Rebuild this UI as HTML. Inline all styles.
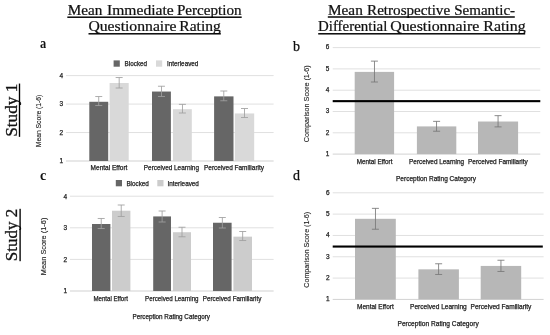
<!DOCTYPE html>
<html lang="en"><head><meta charset="utf-8"><title>Perception questionnaire ratings</title>
<style>html,body{margin:0;padding:0;background:#fff}svg{display:block}</style></head>
<body><svg width="550" height="335" viewBox="0 0 550 335">
<rect width="550" height="335" fill="#fff"/>
<text x="67.8" y="14.5" font-size="13.9" text-anchor="start" font-family='"Liberation Serif", serif' fill="#111" textLength="34.6" lengthAdjust="spacingAndGlyphs" stroke="#111" stroke-width="0.22" >Mean</text>
<text x="107.0" y="14.5" font-size="13.9" text-anchor="start" font-family='"Liberation Serif", serif' fill="#111" textLength="66.7" lengthAdjust="spacingAndGlyphs" stroke="#111" stroke-width="0.22" >Immediate</text>
<text x="176.9" y="14.5" font-size="13.9" text-anchor="start" font-family='"Liberation Serif", serif' fill="#111" textLength="64.7" lengthAdjust="spacingAndGlyphs" stroke="#111" stroke-width="0.22" >Perception</text>
<rect x="67.3" y="16.474999999999998" width="174.39999999999998" height="1.45" fill="#000"/>
<text x="88.4" y="30.7" font-size="13.9" text-anchor="start" font-family='"Liberation Serif", serif' fill="#111" textLength="88.0" lengthAdjust="spacingAndGlyphs" stroke="#111" stroke-width="0.22" >Questionnaire</text>
<text x="179.3" y="30.7" font-size="13.9" text-anchor="start" font-family='"Liberation Serif", serif' fill="#111" textLength="41.5" lengthAdjust="spacingAndGlyphs" stroke="#111" stroke-width="0.22" >Rating</text>
<rect x="88.5" y="33.074999999999996" width="132.3" height="1.45" fill="#000"/>
<text x="328.0" y="14.5" font-size="13.9" text-anchor="start" font-family='"Liberation Serif", serif' fill="#111" textLength="34.8" lengthAdjust="spacingAndGlyphs" stroke="#111" stroke-width="0.22" >Mean</text>
<text x="367.1" y="14.5" font-size="13.9" text-anchor="start" font-family='"Liberation Serif", serif' fill="#111" textLength="83.0" lengthAdjust="spacingAndGlyphs" stroke="#111" stroke-width="0.22" >Retrospective</text>
<text x="454.2" y="14.5" font-size="13.9" text-anchor="start" font-family='"Liberation Serif", serif' fill="#111" textLength="60.9" lengthAdjust="spacingAndGlyphs" stroke="#111" stroke-width="0.22" >Semantic-</text>
<rect x="327.8" y="16.275" width="186.99999999999994" height="1.45" fill="#000"/>
<text x="318.0" y="30.7" font-size="13.9" text-anchor="start" font-family='"Liberation Serif", serif' fill="#111" textLength="69.3" lengthAdjust="spacingAndGlyphs" stroke="#111" stroke-width="0.22" >Differential</text>
<text x="390.2" y="30.7" font-size="13.9" text-anchor="start" font-family='"Liberation Serif", serif' fill="#111" textLength="89.1" lengthAdjust="spacingAndGlyphs" stroke="#111" stroke-width="0.22" >Questionnaire</text>
<text x="483.3" y="30.7" font-size="13.9" text-anchor="start" font-family='"Liberation Serif", serif' fill="#111" textLength="42.4" lengthAdjust="spacingAndGlyphs" stroke="#111" stroke-width="0.22" >Rating</text>
<rect x="318.2" y="33.074999999999996" width="207.00000000000006" height="1.45" fill="#000"/>
<text x="40" y="48" font-size="15" text-anchor="start" font-family='"Liberation Serif", serif' fill="#111" font-weight="bold" textLength="6.2" lengthAdjust="spacingAndGlyphs" >a</text>
<text x="293" y="50.7" font-size="14" text-anchor="start" font-family='"Liberation Serif", serif' fill="#111" stroke="#111" stroke-width="0.25" >b</text>
<text x="40" y="179.8" font-size="14" text-anchor="start" font-family='"Liberation Serif", serif' fill="#111" font-weight="bold" >c</text>
<text x="293" y="179.6" font-size="14" text-anchor="start" font-family='"Liberation Serif", serif' fill="#111" stroke="#111" stroke-width="0.25" >d</text>
<g transform="translate(16.6 110.2) rotate(-90)">
<text x="0" y="0" font-size="17.3" text-anchor="middle" font-family='"Liberation Serif", serif' fill="#111" textLength="53.3" lengthAdjust="spacingAndGlyphs" stroke="#111" stroke-width="0.3" >Study 1</text>
<rect x="-26.65" y="2.2249999999999996" width="53.3" height="1.35" fill="#000"/>
</g>
<g transform="translate(17.2 235.0) rotate(-90)">
<text x="0" y="0" font-size="17.3" text-anchor="middle" font-family='"Liberation Serif", serif' fill="#111" textLength="52.4" lengthAdjust="spacingAndGlyphs" stroke="#111" stroke-width="0.3" >Study 2</text>
<rect x="-26.2" y="2.2249999999999996" width="52.4" height="1.35" fill="#000"/>
</g>
<rect x="66" y="75.1" width="207.60000000000002" height="1" fill="#e0e0e0"/>
<text x="63.2" y="77.94" font-size="6.5" text-anchor="end" font-family='"Liberation Sans", sans-serif' fill="#222" stroke="#222" stroke-width="0.25" >4</text>
<rect x="66" y="103.56666666666666" width="207.60000000000002" height="1" fill="#e0e0e0"/>
<text x="63.2" y="106.40666666666667" font-size="6.5" text-anchor="end" font-family='"Liberation Sans", sans-serif' fill="#222" stroke="#222" stroke-width="0.25" >3</text>
<rect x="66" y="132.03333333333333" width="207.60000000000002" height="1" fill="#e0e0e0"/>
<text x="63.2" y="134.87333333333333" font-size="6.5" text-anchor="end" font-family='"Liberation Sans", sans-serif' fill="#222" stroke="#222" stroke-width="0.25" >2</text>
<rect x="66" y="160.5" width="207.60000000000002" height="1" fill="#d2d2d2"/>
<text x="63.2" y="163.34" font-size="6.5" text-anchor="end" font-family='"Liberation Sans", sans-serif' fill="#222" stroke="#222" stroke-width="0.25" >1</text>
<rect x="89.3" y="101.78933333333333" width="18.90" height="59.21" fill="#666666"/>
<rect x="109.6" y="83.00133333333332" width="19.10" height="78.00" fill="#d9d9d9"/>
<rect x="98.325" y="96.6" width="0.85" height="9.0" fill="#a0a0a0"/>
<rect x="95.25" y="96.175" width="7.0" height="0.85" fill="#a0a0a0"/>
<rect x="95.25" y="105.175" width="7.0" height="0.85" fill="#a0a0a0"/>
<rect x="118.725" y="77.6" width="0.85" height="10.400000000000006" fill="#a0a0a0"/>
<rect x="115.64999999999999" y="77.175" width="7.0" height="0.85" fill="#a0a0a0"/>
<rect x="115.64999999999999" y="87.575" width="7.0" height="0.85" fill="#a0a0a0"/>
<rect x="152.0" y="91.54133333333333" width="18.90" height="69.46" fill="#666666"/>
<rect x="173.0" y="109.19066666666666" width="18.80" height="51.81" fill="#d9d9d9"/>
<rect x="161.02499999999998" y="86.2" width="0.85" height="10.200000000000003" fill="#a0a0a0"/>
<rect x="157.95" y="85.775" width="7.0" height="0.85" fill="#a0a0a0"/>
<rect x="157.95" y="95.97500000000001" width="7.0" height="0.85" fill="#a0a0a0"/>
<rect x="181.975" y="104.3" width="0.85" height="8.700000000000003" fill="#a0a0a0"/>
<rect x="178.9" y="103.875" width="7.0" height="0.85" fill="#a0a0a0"/>
<rect x="178.9" y="112.575" width="7.0" height="0.85" fill="#a0a0a0"/>
<rect x="214.1" y="96.38066666666666" width="19.40" height="64.62" fill="#666666"/>
<rect x="234.8" y="113.46066666666667" width="19.40" height="47.54" fill="#d9d9d9"/>
<rect x="223.375" y="91.0" width="0.85" height="9.799999999999997" fill="#a0a0a0"/>
<rect x="220.3" y="90.575" width="7.0" height="0.85" fill="#a0a0a0"/>
<rect x="220.3" y="100.375" width="7.0" height="0.85" fill="#a0a0a0"/>
<rect x="244.075" y="108.5" width="0.85" height="9.0" fill="#a0a0a0"/>
<rect x="241.0" y="108.075" width="7.0" height="0.85" fill="#a0a0a0"/>
<rect x="241.0" y="117.075" width="7.0" height="0.85" fill="#a0a0a0"/>
<rect x="113.6" y="60.4" width="6.20" height="6.30" fill="#666666"/>
<text x="124.6" y="66.1" font-size="6.5" text-anchor="start" font-family='"Liberation Sans", sans-serif' fill="#222" textLength="22.5" lengthAdjust="spacingAndGlyphs" stroke="#222" stroke-width="0.25" >Blocked</text>
<rect x="156.0" y="60.4" width="6.20" height="6.30" fill="#d9d9d9"/>
<text x="167.0" y="66.1" font-size="6.5" text-anchor="start" font-family='"Liberation Sans", sans-serif' fill="#222" textLength="31.4" lengthAdjust="spacingAndGlyphs" stroke="#222" stroke-width="0.25" >Interleaved</text>
<text x="109.0" y="170.0" font-size="6.5" text-anchor="middle" font-family='"Liberation Sans", sans-serif' fill="#222" textLength="36.8" lengthAdjust="spacingAndGlyphs" stroke="#222" stroke-width="0.25" >Mental Effort</text>
<text x="171.4" y="170.0" font-size="6.5" text-anchor="middle" font-family='"Liberation Sans", sans-serif' fill="#222" textLength="55.2" lengthAdjust="spacingAndGlyphs" stroke="#222" stroke-width="0.25" >Perceived Learning</text>
<text x="234.0" y="170.0" font-size="6.5" text-anchor="middle" font-family='"Liberation Sans", sans-serif' fill="#222" textLength="60.0" lengthAdjust="spacingAndGlyphs" stroke="#222" stroke-width="0.25" >Perceived Familiarity</text>
<g transform="translate(41.0 120.9) rotate(-90)">
<text x="0" y="0" font-size="6.748071979434447" text-anchor="middle" font-family='"Liberation Sans", sans-serif' fill="#222" textLength="52.5" lengthAdjust="spacingAndGlyphs" stroke="#222" stroke-width="0.12" >Mean Score (1-6)</text>
</g>
<rect x="70" y="195.7" width="203.60000000000002" height="1" fill="#e0e0e0"/>
<text x="67.2" y="198.54" font-size="6.5" text-anchor="end" font-family='"Liberation Sans", sans-serif' fill="#222" stroke="#222" stroke-width="0.25" >4</text>
<rect x="70" y="227.29999999999998" width="203.60000000000002" height="1" fill="#e0e0e0"/>
<text x="67.2" y="230.14" font-size="6.5" text-anchor="end" font-family='"Liberation Sans", sans-serif' fill="#222" stroke="#222" stroke-width="0.25" >3</text>
<rect x="70" y="258.9" width="203.60000000000002" height="1" fill="#e0e0e0"/>
<text x="67.2" y="261.73999999999995" font-size="6.5" text-anchor="end" font-family='"Liberation Sans", sans-serif' fill="#222" stroke="#222" stroke-width="0.25" >2</text>
<rect x="70" y="290.5" width="203.60000000000002" height="1" fill="#d2d2d2"/>
<text x="67.2" y="293.34" font-size="6.5" text-anchor="end" font-family='"Liberation Sans", sans-serif' fill="#222" stroke="#222" stroke-width="0.25" >1</text>
<rect x="92.0" y="224.00799999999998" width="18.40" height="66.99" fill="#666666"/>
<rect x="112.0" y="210.736" width="18.40" height="80.26" fill="#cccccc"/>
<rect x="100.775" y="218.4" width="0.85" height="10.199999999999989" fill="#a0a0a0"/>
<rect x="97.7" y="217.975" width="7.0" height="0.85" fill="#a0a0a0"/>
<rect x="97.7" y="228.17499999999998" width="7.0" height="0.85" fill="#a0a0a0"/>
<rect x="120.775" y="205.0" width="0.85" height="11.400000000000006" fill="#a0a0a0"/>
<rect x="117.7" y="204.575" width="7.0" height="0.85" fill="#a0a0a0"/>
<rect x="117.7" y="215.975" width="7.0" height="0.85" fill="#a0a0a0"/>
<rect x="153.2" y="216.42399999999998" width="17.80" height="74.58" fill="#666666"/>
<rect x="173.0" y="232.224" width="18.00" height="58.78" fill="#cccccc"/>
<rect x="161.67499999999998" y="211.0" width="0.85" height="11.0" fill="#a0a0a0"/>
<rect x="158.6" y="210.575" width="7.0" height="0.85" fill="#a0a0a0"/>
<rect x="158.6" y="221.575" width="7.0" height="0.85" fill="#a0a0a0"/>
<rect x="181.575" y="227.2" width="0.85" height="9.600000000000023" fill="#a0a0a0"/>
<rect x="178.5" y="226.77499999999998" width="7.0" height="0.85" fill="#a0a0a0"/>
<rect x="178.5" y="236.375" width="7.0" height="0.85" fill="#a0a0a0"/>
<rect x="213.0" y="222.74399999999997" width="18.60" height="68.26" fill="#666666"/>
<rect x="233.4" y="236.64799999999997" width="18.60" height="54.35" fill="#cccccc"/>
<rect x="221.875" y="217.5" width="0.85" height="10.5" fill="#a0a0a0"/>
<rect x="218.8" y="217.075" width="7.0" height="0.85" fill="#a0a0a0"/>
<rect x="218.8" y="227.575" width="7.0" height="0.85" fill="#a0a0a0"/>
<rect x="242.27499999999998" y="231.5" width="0.85" height="9.099999999999994" fill="#a0a0a0"/>
<rect x="239.2" y="231.075" width="7.0" height="0.85" fill="#a0a0a0"/>
<rect x="239.2" y="240.17499999999998" width="7.0" height="0.85" fill="#a0a0a0"/>
<rect x="115.8" y="180.0" width="6.20" height="6.30" fill="#666666"/>
<text x="126.4" y="185.7" font-size="6.5" text-anchor="start" font-family='"Liberation Sans", sans-serif' fill="#222" textLength="22.5" lengthAdjust="spacingAndGlyphs" stroke="#222" stroke-width="0.25" >Blocked</text>
<rect x="157.3" y="180.0" width="6.20" height="6.30" fill="#cccccc"/>
<text x="167.5" y="185.7" font-size="6.5" text-anchor="start" font-family='"Liberation Sans", sans-serif' fill="#222" textLength="31.4" lengthAdjust="spacingAndGlyphs" stroke="#222" stroke-width="0.25" >Interleaved</text>
<text x="110.7" y="301.0" font-size="6.5" text-anchor="middle" font-family='"Liberation Sans", sans-serif' fill="#222" textLength="34.6" lengthAdjust="spacingAndGlyphs" stroke="#222" stroke-width="0.25" >Mental Effort</text>
<text x="171.8" y="301.0" font-size="6.5" text-anchor="middle" font-family='"Liberation Sans", sans-serif' fill="#222" textLength="53.5" lengthAdjust="spacingAndGlyphs" stroke="#222" stroke-width="0.25" >Perceived Learning</text>
<text x="232.1" y="301.0" font-size="6.5" text-anchor="middle" font-family='"Liberation Sans", sans-serif' fill="#222" textLength="58.6" lengthAdjust="spacingAndGlyphs" stroke="#222" stroke-width="0.25" >Perceived Familiarity</text>
<g transform="translate(45.8 246.4) rotate(-90)">
<text x="0" y="0" font-size="7.3907455012853465" text-anchor="middle" font-family='"Liberation Sans", sans-serif' fill="#222" textLength="57.5" lengthAdjust="spacingAndGlyphs" stroke="#222" stroke-width="0.12" >Mean Score (1-6)</text>
</g>
<text x="171.2" y="318.6" font-size="6.30901986323673" text-anchor="middle" font-family='"Liberation Sans", sans-serif' fill="#222" textLength="77.5" lengthAdjust="spacingAndGlyphs" stroke="#222" stroke-width="0.25" >Perception Rating Category</text>
<rect x="332.7" y="47.099999999999994" width="207.59999999999997" height="1" fill="#e0e0e0"/>
<text x="329.2" y="49.303999999999995" font-size="6.4" text-anchor="end" font-family='"Liberation Sans", sans-serif' fill="#222" stroke="#222" stroke-width="0.25" >6</text>
<rect x="332.7" y="68.39999999999999" width="207.59999999999997" height="1" fill="#e0e0e0"/>
<text x="329.2" y="70.604" font-size="6.4" text-anchor="end" font-family='"Liberation Sans", sans-serif' fill="#222" stroke="#222" stroke-width="0.25" >5</text>
<rect x="332.7" y="89.69999999999999" width="207.59999999999997" height="1" fill="#e0e0e0"/>
<text x="329.2" y="91.904" font-size="6.4" text-anchor="end" font-family='"Liberation Sans", sans-serif' fill="#222" stroke="#222" stroke-width="0.25" >4</text>
<rect x="332.7" y="111.0" width="207.59999999999997" height="1" fill="#e0e0e0"/>
<text x="329.2" y="113.20400000000001" font-size="6.4" text-anchor="end" font-family='"Liberation Sans", sans-serif' fill="#222" stroke="#222" stroke-width="0.25" >3</text>
<rect x="332.7" y="132.29999999999998" width="207.59999999999997" height="1" fill="#e0e0e0"/>
<text x="329.2" y="134.504" font-size="6.4" text-anchor="end" font-family='"Liberation Sans", sans-serif' fill="#222" stroke="#222" stroke-width="0.25" >2</text>
<rect x="332.7" y="153.6" width="207.59999999999997" height="1" fill="#d2d2d2"/>
<text x="329.2" y="155.804" font-size="6.4" text-anchor="end" font-family='"Liberation Sans", sans-serif' fill="#222" stroke="#222" stroke-width="0.25" >1</text>
<rect x="354.7" y="71.88199999999999" width="39.40" height="82.22" fill="#b7b7b7"/>
<rect x="416.9" y="126.41" width="39.40" height="27.69" fill="#b7b7b7"/>
<rect x="478.0" y="121.511" width="40.10" height="32.59" fill="#b7b7b7"/>
<rect x="332.7" y="100.1" width="207.59999999999997" height="2.1" fill="#000"/>
<rect x="373.97499999999997" y="61.1" width="0.85" height="20.9" fill="#787878"/>
<rect x="370.9" y="60.675000000000004" width="7.0" height="0.85" fill="#787878"/>
<rect x="370.9" y="81.575" width="7.0" height="0.85" fill="#787878"/>
<rect x="436.175" y="121.3" width="0.85" height="9.899999999999991" fill="#787878"/>
<rect x="433.1" y="120.875" width="7.0" height="0.85" fill="#787878"/>
<rect x="433.1" y="130.77499999999998" width="7.0" height="0.85" fill="#787878"/>
<rect x="497.625" y="115.7" width="0.85" height="11.200000000000003" fill="#787878"/>
<rect x="494.55" y="115.275" width="7.0" height="0.85" fill="#787878"/>
<rect x="494.55" y="126.47500000000001" width="7.0" height="0.85" fill="#787878"/>
<text x="374.6" y="163.5" font-size="6.4" text-anchor="middle" font-family='"Liberation Sans", sans-serif' fill="#222" textLength="35.7" lengthAdjust="spacingAndGlyphs" stroke="#222" stroke-width="0.25" >Mental Effort</text>
<text x="436.6" y="163.5" font-size="6.4" text-anchor="middle" font-family='"Liberation Sans", sans-serif' fill="#222" textLength="55.0" lengthAdjust="spacingAndGlyphs" stroke="#222" stroke-width="0.25" >Perceived Learning</text>
<text x="497.9" y="163.5" font-size="6.4" text-anchor="middle" font-family='"Liberation Sans", sans-serif' fill="#222" textLength="59.8" lengthAdjust="spacingAndGlyphs" stroke="#222" stroke-width="0.25" >Perceived Familiarity</text>
<g transform="translate(308.6 103.8) rotate(-90)">
<text x="0" y="0" font-size="6.84248039914469" text-anchor="middle" font-family='"Liberation Sans", sans-serif' fill="#222" textLength="76.8" lengthAdjust="spacingAndGlyphs" stroke="#222" stroke-width="0.12" >Comparison Score (1-6)</text>
</g>
<text x="436.0" y="181.0" font-size="6.51253663301856" text-anchor="middle" font-family='"Liberation Sans", sans-serif' fill="#222" textLength="80.0" lengthAdjust="spacingAndGlyphs" stroke="#222" stroke-width="0.25" >Perception Rating Category</text>
<rect x="332.7" y="192.3" width="210.90000000000003" height="1" fill="#e0e0e0"/>
<text x="329.6" y="194.84" font-size="6.5" text-anchor="end" font-family='"Liberation Sans", sans-serif' fill="#222" stroke="#222" stroke-width="0.25" >6</text>
<rect x="332.7" y="213.62" width="210.90000000000003" height="1" fill="#e0e0e0"/>
<text x="329.6" y="216.16" font-size="6.5" text-anchor="end" font-family='"Liberation Sans", sans-serif' fill="#222" stroke="#222" stroke-width="0.25" >5</text>
<rect x="332.7" y="234.94" width="210.90000000000003" height="1" fill="#e0e0e0"/>
<text x="329.6" y="237.48" font-size="6.5" text-anchor="end" font-family='"Liberation Sans", sans-serif' fill="#222" stroke="#222" stroke-width="0.25" >4</text>
<rect x="332.7" y="256.26" width="210.90000000000003" height="1" fill="#e0e0e0"/>
<text x="329.6" y="258.79999999999995" font-size="6.5" text-anchor="end" font-family='"Liberation Sans", sans-serif' fill="#222" stroke="#222" stroke-width="0.25" >3</text>
<rect x="332.7" y="277.58" width="210.90000000000003" height="1" fill="#e0e0e0"/>
<text x="329.6" y="280.11999999999995" font-size="6.5" text-anchor="end" font-family='"Liberation Sans", sans-serif' fill="#222" stroke="#222" stroke-width="0.25" >2</text>
<rect x="332.7" y="298.9" width="210.90000000000003" height="1" fill="#d2d2d2"/>
<text x="329.6" y="301.43999999999994" font-size="6.5" text-anchor="end" font-family='"Liberation Sans", sans-serif' fill="#222" stroke="#222" stroke-width="0.25" >1</text>
<rect x="355.0" y="218.81040000000002" width="40.80" height="80.59" fill="#b7b7b7"/>
<rect x="418.4" y="269.3388" width="40.50" height="30.06" fill="#b7b7b7"/>
<rect x="480.7" y="265.9276" width="40.50" height="33.47" fill="#b7b7b7"/>
<rect x="332.7" y="245.49999999999997" width="210.09999999999997" height="2.1" fill="#000"/>
<rect x="374.97499999999997" y="208.3" width="0.85" height="20.899999999999977" fill="#787878"/>
<rect x="371.9" y="207.875" width="7.0" height="0.85" fill="#787878"/>
<rect x="371.9" y="228.77499999999998" width="7.0" height="0.85" fill="#787878"/>
<rect x="438.22499999999997" y="263.8" width="0.85" height="10.599999999999966" fill="#787878"/>
<rect x="435.15" y="263.375" width="7.0" height="0.85" fill="#787878"/>
<rect x="435.15" y="273.97499999999997" width="7.0" height="0.85" fill="#787878"/>
<rect x="500.52500000000003" y="260.2" width="0.85" height="11.199999999999989" fill="#787878"/>
<rect x="497.45000000000005" y="259.775" width="7.0" height="0.85" fill="#787878"/>
<rect x="497.45000000000005" y="270.97499999999997" width="7.0" height="0.85" fill="#787878"/>
<text x="375.4" y="308.6" font-size="6.5" text-anchor="middle" font-family='"Liberation Sans", sans-serif' fill="#222" textLength="36.6" lengthAdjust="spacingAndGlyphs" stroke="#222" stroke-width="0.25" >Mental Effort</text>
<text x="438.4" y="308.6" font-size="6.5" text-anchor="middle" font-family='"Liberation Sans", sans-serif' fill="#222" textLength="56.7" lengthAdjust="spacingAndGlyphs" stroke="#222" stroke-width="0.25" >Perceived Learning</text>
<text x="501.0" y="308.6" font-size="6.5" text-anchor="middle" font-family='"Liberation Sans", sans-serif' fill="#222" textLength="60.8" lengthAdjust="spacingAndGlyphs" stroke="#222" stroke-width="0.25" >Perceived Familiarity</text>
<g transform="translate(308.5 249.8) rotate(-90)">
<text x="0" y="0" font-size="6.744476122594441" text-anchor="middle" font-family='"Liberation Sans", sans-serif' fill="#222" textLength="75.7" lengthAdjust="spacingAndGlyphs" stroke="#222" stroke-width="0.12" >Comparison Score (1-6)</text>
</g>
<text x="438.1" y="326.3" font-size="6.610224682513839" text-anchor="middle" font-family='"Liberation Sans", sans-serif' fill="#222" textLength="81.2" lengthAdjust="spacingAndGlyphs" stroke="#222" stroke-width="0.25" >Perception Rating Category</text>
</svg></body></html>
